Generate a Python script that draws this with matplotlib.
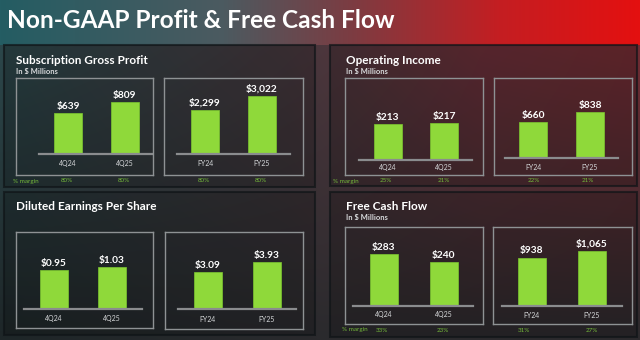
import numpy as np
import matplotlib.pyplot as plt
from matplotlib.patches import Rectangle
from matplotlib.colors import to_rgb

W, H = 640, 340

# data
periods_q = ["4Q24", "4Q25"]
periods_fy = ["FY24", "FY25"]

sub_gp_q = [639, 809]
sub_gp_fy = [2299, 3022]
sub_gp_margin = ["80%", "80%", "80%", "80%"]

op_inc_q = [213, 217]
op_inc_fy = [660, 838]
op_inc_margin = ["25%", "21%", "22%", "21%"]

eps_q = [0.95, 1.03]
eps_fy = [3.09, 3.93]

fcf_q = [283, 240]
fcf_fy = [938, 1065]
fcf_margin = ["33%", "23%", "31%", "27%"]

GREEN = "#8fd93a"
MARGIN_GREEN = "#74b83a"
BOX_EDGE = "#8e9294"
BASE_LINE = "#8a8c8e"
FONT = ["Lato", "DejaVu Sans"]


def money(v):
    return f"${v:,.0f}"


def money2(v):
    return f"${v:.2f}"


def gradient(stops, n):
    pos = np.array([p for p, _ in stops])
    cols = np.array([to_rgb(c) for _, c in stops])
    t = np.linspace(0, 1, n)
    return np.stack([np.interp(t, pos, cols[:, k]) for k in range(3)], axis=-1)


def background():
    top = gradient([(0, "#2e4c50"), (0.45, "#4a3a40"), (0.75, "#74303a"), (1, "#7e2c34")], W)
    bot = gradient([(0, "#1e2628"), (0.5, "#2a2a2d"), (1, "#2c2a2d")], W)
    ty = np.linspace(0, 1, H)[:, None, None]
    img = top[None] * (1 - ty) + bot[None] * ty
    band = gradient([(0, "#245d63"), (0.35, "#4c5a60"), (0.55, "#7c3c42"),
                     (0.78, "#c41e22"), (1, "#e41010")], W)
    img[:45] = band[None]
    return img


def bar_box(fig, box, base, centers, line, top_px, cat_y, cats, vals, fmt):
    x0, y0, x1, y1 = box
    c0, c1 = centers
    ax = fig.add_axes([x0 / W, 1 - y1 / H, (x1 - x0) / W, (y1 - y0) / H])
    ax.patch.set_alpha(0)
    ax.set_xticks([])
    ax.set_yticks([])
    for sp in ax.spines.values():
        sp.set_color(BOX_EDGE)
        sp.set_linewidth(1.0)
    d = c1 - c0
    s = top_px / max(vals)
    ax.set_xlim(-(c0 - x0) / d, 1 + (x1 - c1) / d)
    ax.set_ylim(-(y1 - base) / s, (base - y0) / s)
    ax.bar([0, 1], vals, width=28 / d, color=GREEN, edgecolor="#7cc830", linewidth=0.5, zorder=2)
    ax.plot([(line[0] - c0) / d, (line[1] - c0) / d], [0, 0], color=BASE_LINE, lw=1.6, zorder=3)
    for i, v in enumerate(vals):
        ax.annotate(fmt(v), (i, v), xytext=(0, 1.5), textcoords="offset points",
                    ha="center", va="bottom", color="white", fontsize=7.3, fontweight="bold",
                    family=FONT)
        ax.text(i, -(cat_y - base) / s, cats[i], ha="center", va="center",
                color="#d4d6d8", fontsize=5, family=FONT)
    return ax


fig = plt.figure(figsize=(6.4, 3.4), dpi=100)
bg = fig.add_axes([0, 0, 1, 1])
bg.imshow(background(), extent=[0, W, H, 0], aspect="auto", interpolation="bilinear")
bg.set_xlim(0, W)
bg.set_ylim(H, 0)
bg.axis("off")

bg.text(7, 21, "Non-GAAP Profit & Free Cash Flow", color="white", fontsize=17.6,
        fontweight="bold", va="center", ha="left", family=FONT)

# panels
for (px0, py0, px1, py1) in [(4, 45, 315, 187), (330, 45, 637, 186),
                              (4, 192, 315, 335), (330, 192, 637, 337)]:
    bg.add_patch(Rectangle((px0, py0), px1 - px0, py1 - py0, facecolor=(0, 0, 0, 0.2),
                           edgecolor=(0.06, 0.08, 0.09, 0.7), lw=1.5))


def panel_title(x, y, title, sub=None):
    bg.text(x, y, title, color="white", fontsize=8.5, fontweight="bold",
            va="center", ha="left", family=FONT)
    if sub:
        bg.text(x, y + 11, sub, color="#d8dadc", fontsize=5.5, fontweight="bold",
                va="center", ha="left", family=FONT)


def margin_row(x, y, centers, labels):
    bg.text(x, y, "% margin", color=MARGIN_GREEN, fontsize=4.5, va="center", ha="left", family=FONT)
    for c, lab in zip(centers, labels):
        bg.text(c, y, lab, color=MARGIN_GREEN, fontsize=4.5, va="center", ha="center", family=FONT)


# Subscription gross profit
panel_title(16, 60, "Subscription Gross Profit", "In $ Millions")
bar_box(fig, (16, 78, 153, 175), 154, (68, 124.5), (39, 153), 52, 164, periods_q, sub_gp_q, money)
bar_box(fig, (164, 78, 303, 175), 154, (205, 262), (177, 290), 58, 164, periods_fy, sub_gp_fy, money)
margin_row(13, 181, [67, 124, 204, 261], sub_gp_margin)

# Operating income
panel_title(346, 61, "Operating Income", "In $ Millions")
bar_box(fig, (345, 78, 483, 175), 160, (387.5, 444), (359, 472), 37, 168, periods_q, op_inc_q, money)
bar_box(fig, (494, 78, 632, 175), 158, (533, 590), (505, 618), 46, 168, periods_fy, op_inc_fy, money)
margin_row(333, 181, [386, 444, 534, 588], op_inc_margin)

# Diluted EPS
panel_title(16, 207, "Diluted Earnings Per Share")
bar_box(fig, (16, 232, 153, 328), 309, (53.5, 112), (24, 142), 42, 319, periods_q, eps_q, money2)
bar_box(fig, (165, 232, 303, 329), 309, (207.5, 266.5), (178, 296), 47, 319, periods_fy, eps_fy, money2)

# Free cash flow
panel_title(346, 207, "Free Cash Flow", "In $ Millions")
bar_box(fig, (345, 227, 483, 324), 306, (383.5, 443.5), (353, 473), 52, 315, periods_q, fcf_q, money)
bar_box(fig, (493, 227, 632, 324), 306, (531.5, 591.5), (502, 622), 55, 315, periods_fy, fcf_fy, money)
margin_row(342, 330, [382, 443, 524, 592], fcf_margin)

fig.savefig("out.png", dpi=100)
